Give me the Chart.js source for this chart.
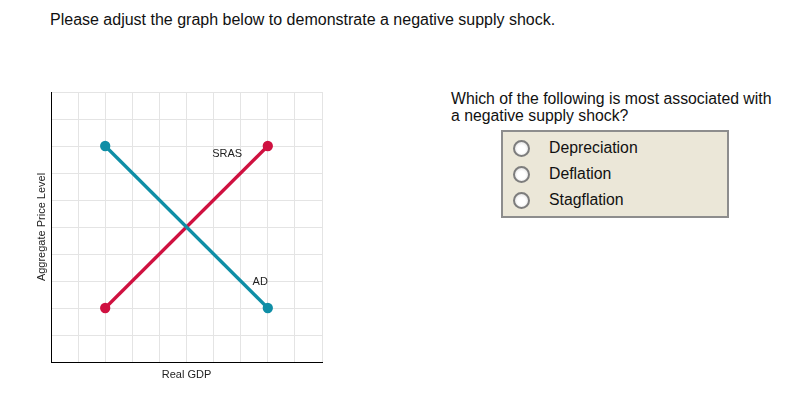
<!DOCTYPE html>
<html>
<head>
<meta charset="utf-8">
<script src="https://cdn.jsdelivr.net/npm/chart.js@4"></script>
<style>
  body { margin: 0; background: #fff; font-family: Arial, "Liberation Sans", sans-serif; color: #111; }
  #wrap { position: relative; width: 790px; height: 405px; overflow: hidden; }
  #chartBox { position: absolute; left: 0; top: 0; width: 340px; height: 400px; }
  .prompt { position: absolute; left: 50px; top: 11px; font-size: 16px; line-height: 18px; white-space: nowrap; }
  .question { position: absolute; left: 451px; top: 91px; font-size: 15.8px; line-height: 16.5px; }
  .choices { position: absolute; left: 501px; top: 130px; width: 224px; height: 84px; border: 2px solid #8d8d8d; background: #ebe7d8; }
  .opt { position: absolute; left: 46px; font-size: 15.8px; line-height: 18px; white-space: nowrap; }
  .radio { position: absolute; left: -36px; top: 1px; width: 13px; height: 13px; border-radius: 50%;
           border: 2px solid #7d7d7d; background: radial-gradient(circle at 50% 55%, #fff 40%, #d6d6d6 100%); }
</style>
</head>
<body>
<div id="wrap">
  <div class="prompt">Please adjust the graph below to demonstrate a negative supply shock.</div>
  <div id="chartBox"><canvas id="econChart"></canvas></div>
  <div class="question">Which of the following is most associated with<br>a negative supply shock?</div>
  <div class="choices">
    <div class="opt" style="top:7px"><span class="radio"></span>Depreciation</div>
    <div class="opt" style="top:33px"><span class="radio"></span>Deflation</div>
    <div class="opt" style="top:59px"><span class="radio"></span>Stagflation</div>
  </div>
</div>
<script>
Chart.defaults.font.family = "Arial, 'Liberation Sans', sans-serif";

// curves (Real GDP on x, price level on y)
const adX = [2, 8];
const adY = [8, 2];
const srasX = [2, 8];
const srasY = [2, 8];

// curve name labels, in data units
const curveNames = ["SRAS", "AD"];
const nameX = [6.5, 7.72];
const nameY = [7.72, 2.95];

const axisMin = 0;
const axisMax = 10;

const toPoints = (xs, ys) => xs.map((x, i) => ({ x: x, y: ys[i] }));

// write the curve names next to the lines
const curveNamePlugin = {
    id: "curveNames",
    afterDatasetsDraw(chart) {
        const ctx = chart.ctx;
        const sx = chart.scales.x, sy = chart.scales.y;
        ctx.save();
        ctx.font = "11px Arial, 'Liberation Sans', sans-serif";
        ctx.fillStyle = "#222";
        ctx.textAlign = "center";
        ctx.textBaseline = "middle";
        curveNames.forEach(function (name, i) {
            ctx.fillText(name, sx.getPixelForValue(nameX[i]), sy.getPixelForValue(nameY[i]));
        });
        ctx.restore();
    }
};

new Chart(document.getElementById("econChart"), {
    type: "line",
    data: {
        datasets: [{
            label: "AD",
            data: toPoints(adX, adY),
            borderColor: "#0f8ea6",
            backgroundColor: "#0f8ea6",
            borderWidth: 3.3,
            pointRadius: 3.5,
            pointHoverRadius: 3.5
        }, {
            label: "SRAS",
            data: toPoints(srasX, srasY),
            borderColor: "#cf1140",
            backgroundColor: "#cf1140",
            borderWidth: 3.3,
            pointRadius: 3.5,
            pointHoverRadius: 3.5
        }]
    },
    options: {
        responsive: true,
        maintainAspectRatio: false,
        animation: false,
        layout: { padding: { left: 31, top: 92, right: 18, bottom: 14 } },
        plugins: { legend: { display: false }, tooltip: { enabled: false } },
        scales: {
            x: {
                type: "linear",
                min: axisMin,
                max: axisMax,
                ticks: { display: false, stepSize: 1 },
                grid: { color: "#e4e4e4", drawTicks: false },
                border: { color: "#000", width: 1 },
                title: { display: true, text: "Real GDP", color: "#222", font: { size: 11 } },
                afterFit: function (s) { s.height = 24; }
            },
            y: {
                type: "linear",
                min: axisMin,
                max: axisMax,
                ticks: { display: false, stepSize: 1 },
                grid: { color: "#e4e4e4", drawTicks: false },
                border: { color: "#000", width: 1 },
                title: { display: true, text: "Aggregate Price Level", color: "#222", font: { size: 11 } },
                afterFit: function (s) { s.width = 20; }
            }
        }
    },
    plugins: [curveNamePlugin]
});
</script>
</body>
</html>
